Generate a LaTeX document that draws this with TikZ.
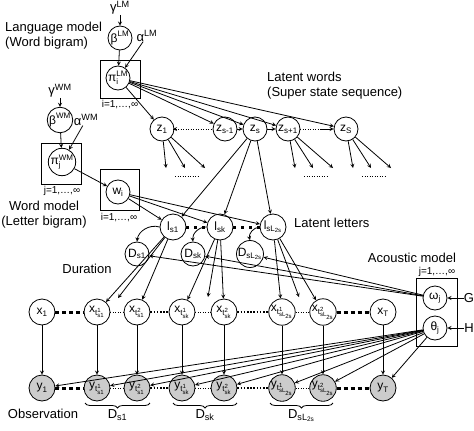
\documentclass[tikz,border=0pt]{standalone}
\usepackage{amsmath}
\usepackage{fontspec}
\setmainfont{Liberation Sans}
\usetikzlibrary{arrows,positioning,decorations.pathreplacing}
\newcommand{\lbl}[1]{\text{#1}}

\begin{document}
\begin{tikzpicture}[x=1pt,y=-1pt,>=stealth,
    var/.style={draw,circle,line width=.8pt,minimum size=24pt,inner sep=0pt,font=\fontsize{12}{12}\selectfont},
    hid/.style={var,minimum size=26pt},
    obs/.style={var,minimum size=26pt,fill=gray!40},
    plate/.style={draw,line width=1pt,inner sep=0pt},
    txt/.style={font=\fontsize{13}{15}\selectfont,align=left,inner sep=0pt},
    idx/.style={font=\fontsize{10}{12}\selectfont,inner sep=0pt},
    arr/.style={->,line width=.8pt},
    bigdash/.style={line width=3pt,dash pattern=on 4pt off 3pt},
    middot/.style={line width=1.6pt,dash pattern=on 1.6pt off 1.6pt},
    smalldot/.style={line width=1pt,dash pattern=on 1pt off 1.5pt},
    letdot/.style={line width=3pt,dash pattern=on 3pt off 5pt}]
  \useasboundingbox (0,0) rectangle (474,431);

  % language model
  \node[txt] (gLM) at (120,8) {$\lbl{γ}^{\lbl{LM}}$};
  \node[var] (bLM) at (120,38) {$\lbl{β}^{\lbl{LM}}$};
  \node[txt] (aLM) at (147,36) {$\lbl{α}^{\lbl{LM}}$};
  \node[plate,minimum width=40pt,minimum height=38pt] (boxLM) at (120,79) {};
  \node[var] (piLM) at (118,78) {$\lbl{π}^{\lbl{LM}}_{\lbl{i}}$};
  \node[idx] at (120,105) {i=1,…,∞};
  \node[txt,anchor=west] at (5,36) {Language model\\(Word bigram)};
  \draw[arr] (gLM) -- (bLM);
  \draw[arr] (bLM) -- (piLM);
  \draw[arr] (aLM) -- (piLM);

  % word model
  \node[txt] (gWM) at (60,91) {$\lbl{γ}^{\lbl{WM}}$};
  \node[var] (bWM) at (60,120) {$\lbl{β}^{\lbl{WM}}$};
  \node[txt] (aWM) at (86,120) {$\lbl{α}^{\lbl{WM}}$};
  \node[plate,minimum width=40pt,minimum height=41pt] (boxWM) at (61,163.5) {};
  \node[var] (piWM) at (62,162) {$\lbl{π}^{\lbl{WM}}_{\lbl{j}}$};
  \node[idx] at (62,191) {j=1,…,∞};
  \node[txt,align=center] at (44,215) {Word model\\(Letter bigram)};
  \draw[arr] (gWM) -- (bWM);
  \draw[arr] (bWM) -- (piWM);
  \draw[arr] (aWM) -- (piWM);

  \node[plate,minimum width=39pt,minimum height=41pt] (boxW) at (119.5,189.5) {};
  \node[var] (wi) at (118,192) {$\lbl{w}_{\lbl{i}}$};
  \node[idx] at (119,218) {i=1,…,∞};
  \draw[arr] (piWM) -- (wi);

  % latent words
  \node[var] (z1) at (162,129) {$\lbl{z}_{\lbl{1}}$};
  \node[var] (zs1) at (225,129) {$\lbl{z}_{\lbl{s-1}}$};
  \node[var] (zs) at (255,129) {$\lbl{z}_{\lbl{s}}$};
  \node[var] (zsp) at (288,129) {$\lbl{z}_{\lbl{s+1}}$};
  \node[var] (zS) at (346,129) {$\lbl{z}_{\lbl{S}}$};
  \node[txt,anchor=west] at (267,86) {Latent words\\(Super state sequence)};
  \foreach \z in {z1,zs1,zs,zsp,zS}
    \draw[arr] (piLM) -- (\z);
  \draw[arr] (z1) -- ++(11,0) coordinate (z1r);
  \draw[smalldot] (z1r) -- (zs1);
  \draw[arr] (zs1) -- (zs);
  \draw[arr] (zs) -- (zsp);
  \coordinate (zSl) at (321,129);
  \draw[smalldot] (zsp) -- (zSl);
  \draw[arr] (zSl) -- (zS);
  \foreach \z/\a/\b/\c in {z1/166/185/205, zsp/295/313/333, zS/353/371/391} {
    \coordinate (\z-1) at (\a,168);
    \coordinate (\z-2) at (\b,168);
    \coordinate (\z-3) at (\c,168);
    \draw[arr] (\z) -- (\z-1);
    \draw[arr] (\z) -- (\z-2);
    \draw[arr] (\z) -- (\z-3);
    \draw[smalldot] ([xshift=9pt,yshift=-8pt]\z-1) -- ([xshift=-5pt,yshift=-8pt]\z-3);
  }

  % latent letters and durations
  \node[var,minimum size=26pt] (ls1) at (173,227) {$\lbl{l}_{\lbl{s1}}$};
  \node[var,minimum size=26pt] (lsk) at (220,227) {$\lbl{l}_{\lbl{sk}}$};
  \node[var,minimum size=26pt] (lsL) at (273,227) {$\lbl{l}_{\lbl{sL}_{\lbl{2s}}}$};
  \node[txt,anchor=west] at (294,223) {Latent letters};
  \draw[letdot] (ls1) -- (lsk);
  \draw[letdot] (lsk) -- (lsL);
  \node[var] (Ds1) at (137,254) {$\lbl{D}_{\lbl{s1}}$};
  \node[var] (Dsk) at (193,254) {$\lbl{D}_{\lbl{sk}}$};
  \node[var] (DsL) at (250,254) {$\lbl{D}_{\lbl{sL}_{\lbl{2s}}}$};
  \node[txt] at (87,269) {Duration};
  \foreach \l/\d in {ls1/Ds1,lsk/Dsk,lsL/DsL} {
    \draw[arr] (zs) -- (\l);
    \draw[arr] (wi) -- (\l);
    \draw[arr] (\l.west) to[bend right=50] (\d.north);
  }

  % acoustic model
  \node[txt] at (412,258) {Acoustic model};
  \node[idx] at (437,272) {j=1,…,∞};
  \node[plate,minimum width=41pt,minimum height=68pt] (boxAM) at (436.5,312) {};
  \node[var] (om) at (435,298) {$\lbl{ω}_{\lbl{j}}$};
  \node[var] (th) at (435,328) {$\lbl{θ}_{\lbl{j}}$};
  \node[txt] (G) at (469,298) {G};
  \node[txt] (H) at (469,328) {H};
  \draw[arr] (G) -- (om);
  \draw[arr] (H) -- (th);
  \foreach \d in {Ds1,Dsk,DsL}
    \draw[arr] (om) -- (\d);

  % frames
  \node[hid] (x1) at (42,312) {$\lbl{x}_{\lbl{1}}$};
  \node[hid] (xa) at (97,312) {$\lbl{x}_{\lbl{t}^{\lbl{1}}_{\lbl{s1}}}$};
  \node[hid] (xb) at (137,312) {$\lbl{x}_{\lbl{t}^{\lbl{2}}_{\lbl{s1}}}$};
  \node[hid] (xc) at (182,312) {$\lbl{x}_{\lbl{t}^{\lbl{1}}_{\lbl{sk}}}$};
  \node[hid] (xd) at (224,312) {$\lbl{x}_{\lbl{t}^{\lbl{2}}_{\lbl{sk}}}$};
  \node[hid] (xe) at (282,312) {$\lbl{x}_{\lbl{t}^{\lbl{1}}_{\lbl{sL}_{\lbl{2s}}}}$};
  \node[hid] (xf) at (323,312) {$\lbl{x}_{\lbl{t}^{\lbl{2}}_{\lbl{sL}_{\lbl{2s}}}}$};
  \node[hid] (xT) at (383,312) {$\lbl{x}_{\lbl{T}}$};
  \node[obs] (y1) at (42,388) {$\lbl{y}_{\lbl{1}}$};
  \node[obs] (ya) at (97,388) {$\lbl{y}_{\lbl{t}^{\lbl{1}}_{\lbl{s1}}}$};
  \node[obs] (yb) at (137,388) {$\lbl{y}_{\lbl{t}^{\lbl{2}}_{\lbl{s1}}}$};
  \node[obs] (yc) at (182,388) {$\lbl{y}_{\lbl{t}^{\lbl{1}}_{\lbl{sk}}}$};
  \node[obs] (yd) at (224,388) {$\lbl{y}_{\lbl{t}^{\lbl{2}}_{\lbl{sk}}}$};
  \node[obs] (ye) at (282,388) {$\lbl{y}_{\lbl{t}^{\lbl{1}}_{\lbl{sL}_{\lbl{2s}}}}$};
  \node[obs] (yf) at (323,388) {$\lbl{y}_{\lbl{t}^{\lbl{2}}_{\lbl{sL}_{\lbl{2s}}}}$};
  \node[obs] (yT) at (383,388) {$\lbl{y}_{\lbl{T}}$};
  \node[txt] at (43,414) {Observation};
  \foreach \r in {x,y} {
    \draw[bigdash] (\r1) -- (\r a);
    \draw[smalldot] (\r a) -- (\r b);
    \draw[middot] (\r b) -- (\r c);
    \draw[smalldot] (\r c) -- (\r d);
    \draw[middot] (\r d) -- (\r e);
    \draw[smalldot] (\r e) -- (\r f);
    \draw[bigdash] (\r f) -- (\r T);
  }
  \foreach \n in {1,a,b,c,d,e,f,T} {
    \draw[arr] (x\n) -- (y\n);
    \draw[arr] (th) -- (y\n);
  }
  \coordinate (ls1m) at (118,298);
  \coordinate (lskm) at (208,297);
  \coordinate (lsLm) at (299,297);
  \foreach \l/\p/\q in {ls1/xa/xb,lsk/xc/xd,lsL/xe/xf} {
    \draw[arr] (\l) -- (\p);
    \draw[arr] (\l) -- (\l m);
    \draw[arr] (\l) -- (\q);
  }

  % durations as braces
  \foreach \a/\b/\t in {85/150/{$\lbl{D}_{\lbl{s1}}$},173/237/{$\lbl{D}_{\lbl{sk}}$},270/333/{$\lbl{D}_{\lbl{sL}_{\lbl{2s}}}$}}
    \draw[line width=.8pt,decorate,decoration={brace,mirror,amplitude=5pt}] (\a,403) -- node[txt,below=6pt] {\t} (\b,403);
\end{tikzpicture}
\end{document}
